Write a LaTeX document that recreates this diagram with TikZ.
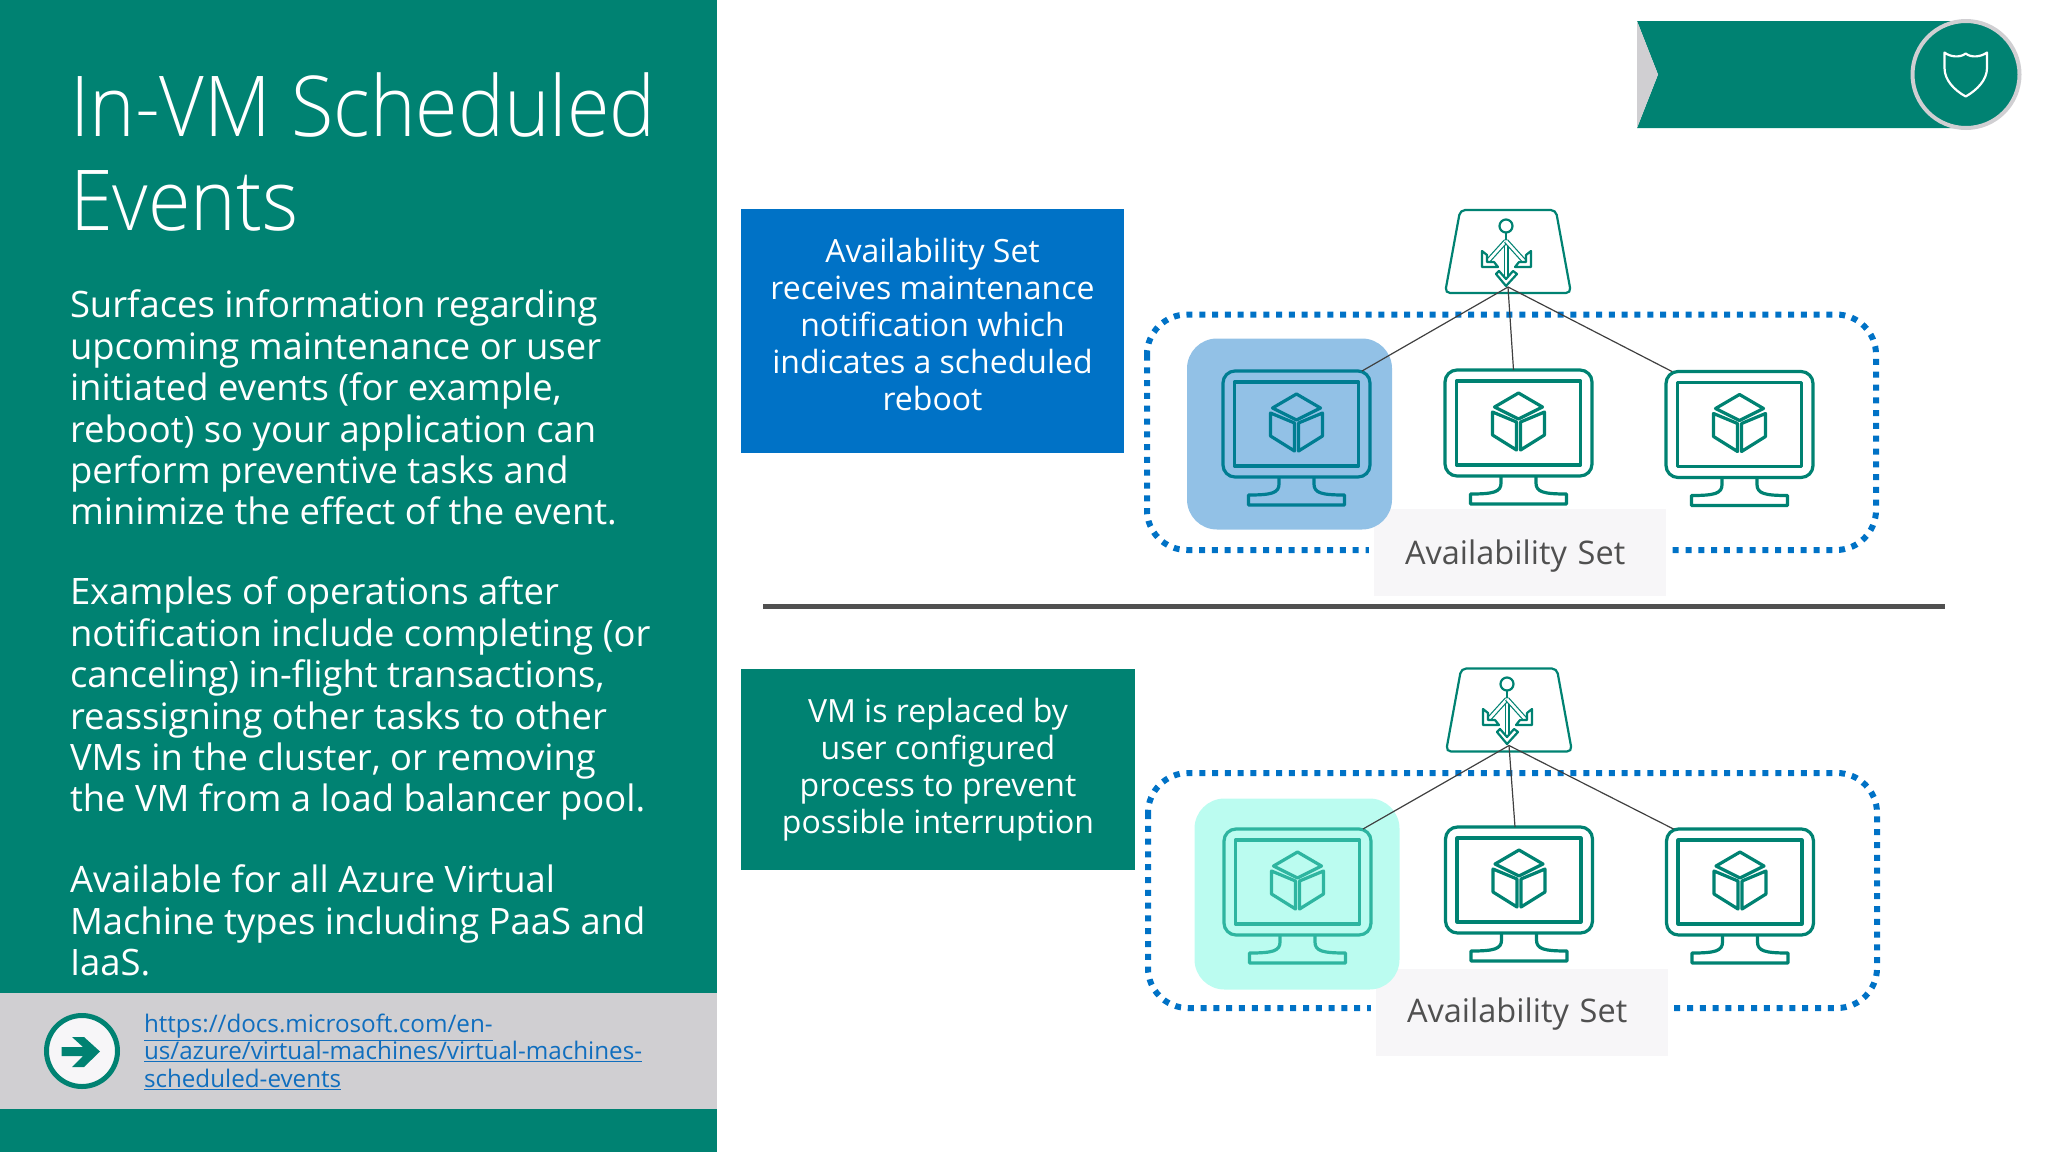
\documentclass[tikz,border=0pt]{standalone}
\usepackage{fontspec}
\setmainfont{Open Sans}
\newfontfamily\lightfont[FakeStretch=0.92]{Open Sans Light}
\usepackage{tikz}
\usetikzlibrary{shapes.geometric}

\definecolor{azteal}{HTML}{008272}
\definecolor{azblue}{HTML}{0072C6}
\definecolor{azgrey}{HTML}{D0CFD2}
\definecolor{azlabel}{HTML}{F7F6F8}
\definecolor{azlink}{HTML}{106EBE}
\definecolor{azink}{HTML}{505050}
\definecolor{hiblue}{HTML}{92C1E6}
\definecolor{hiblueline}{HTML}{007D92}
\definecolor{hiteal}{HTML}{BBFCF0}
\definecolor{hitealline}{HTML}{2EB5A0}

\tikzset{
  vmparts/.pic={
    \draw (-62,-42) rectangle (62,42);
    \draw (-17.5,53) -- (-17.5,60) .. controls (-17.5,69) and (-25,71) .. (-48,71)
      -- (-48,81) -- (48,81) -- (48,71) .. controls (25,71) and (17.5,69) .. (17.5,60) -- (17.5,53);
    \draw (0,-30) -- (24,-16) -- (0,-4) -- (-24,-16) -- cycle;
    \draw (-26,-11) -- (-26,12) -- (-2,27) -- (-2,-1) -- cycle;
    \draw (26,-11) -- (26,12) -- (2,27) -- (2,-1) -- cycle;
  },
  lbparts/.pic={
    \draw[line width=2.2] (0,-25) circle (6.5);
    \draw[line width=2.2] (0,-18.5) -- (0,-10);
    \draw[lbicon] (0,-11) -- (0,31);
    \draw[lbicon] (0,-10) -- (-19,11);
    \draw[lbicon] (0,-10) -- (19,11);
    \draw[arrowcap] (-24,0) -- (-24,16) -- (-8,16) -- (-12,11) -- (-19,11) -- (-19,4) -- cycle;
    \draw[arrowcap] (25,0) -- (25,16) -- (9,16) -- (13,11) -- (20,11) -- (20,4) -- cycle;
    \draw[arrowcap] (-10,23) -- (0,35) -- (11,23) -- (7,20) -- (0,28) -- (-7,20) -- cycle;
  }
}

\begin{document}
\begin{tikzpicture}[
  x=1pt, y=-1pt,
  every node/.style={inner sep=0pt, outer sep=0pt},
  bodytext/.style={anchor=north west, align=left, text=white,
                   font=\fontsize{36.4}{41.4}\selectfont},
  notebox/.style={minimum width=383, align=center, text=white,
                  font=\fontsize{32}{36.9}\selectfont},
  setlabel/.style={inner xsep=31, text width=230, align=left, minimum height=87,
                   fill=azlabel, text=azink, font=\fontsize{32.5}{36}\selectfont},
  setframe/.style={draw=azblue, line width=6, dash pattern=on 6pt off 6.8pt,
                   rounded corners=40},
  lbbox/.style={trapezium, trapezium left angle=81, trapezium right angle=81,
                trapezium stretches=true, inner sep=5pt,
                minimum width=126, minimum height=83, draw=azteal, line width=2.2,
                rounded corners=5},
  lbicon/.style={line width=1.2, double=white, double distance=2.6, line join=miter},
  arrowcap/.style={line width=2.2, line join=round, fill=white},
  vmbody/.style={rectangle, minimum width=147, minimum height=106, line width=3.2,
                 rounded corners=12},
  vmcolor/.style={line width=3.2, line join=round},
  hilite/.style={rectangle, minimum width=205, minimum height=191, rounded corners=30},
  link/.style={draw=black!75, line width=1.2}
]
\useasboundingbox (0,0) rectangle (2048,1152);

% left panel
\fill[azteal] (0,0) rectangle (717,1152);
\fill[azgrey] (0,993) rectangle (717,1109);

\node[anchor=north west, align=left, text=white, font=\fontsize{84}{94}\lightfont] (title) at (70,73)
  {In-VM Scheduled\\Events};
\node[bodytext] (parA) at (70,290)
  {Surfaces information regarding\\upcoming maintenance or user\\initiated events (for example,\\reboot) so your application can\\perform preventive tasks and\\minimize the effect of the event.};
\node[bodytext] (parB) at (70,577)
  {Examples of operations after\\notification include completing (or\\canceling) in-flight transactions,\\reassigning other tasks to other\\VMs in the cluster, or removing\\the VM from a load balancer pool.};
\node[bodytext] (parC) at (70,865)
  {Available for all Azure Virtual\\Machine types including PaaS and\\IaaS.};

\node[circle, minimum size=71, fill=azlabel, draw=azteal, line width=5] (go) at (82,1051) {};
\fill[azteal] (61.5,1047) -- (83,1047) -- (72,1037) -- (84,1037) -- (100,1051.5) -- (84,1067)
  -- (72,1067) -- (83,1056) -- (61.5,1056) -- cycle;
\node[anchor=north west, align=left, text=azlink, font=\fontsize{24.2}{27.4}\selectfont] (url) at (144,1014)
  {\underline{https://docs.microsoft.com/en-}\\\underline{us/azure/virtual-machines/virtual-machines-}\\\underline{scheduled-events}};

% banner
\fill[azteal] (1637,21) -- (1966,21) -- (1966,128) -- (1637,128) -- (1658,74.5) -- cycle;
\fill[azgrey] (1637,21) -- (1658,74.5) -- (1637,128) -- cycle;
\node[circle, minimum size=107, fill=azteal, draw=azgrey, line width=4] (badge) at (1966,74.5) {};
\draw[white, line width=2.2, line join=round] (1944.5,52.5) .. controls (1950,57) and (1960,58) .. (1965.7,53.5)
  .. controls (1971,58) and (1981,57) .. (1987,52.5) -- (1987,68) .. controls (1987,80) and (1977,90) .. (1965.7,96.5)
  .. controls (1954,90) and (1944.5,80) .. (1944.5,68) -- cycle;

% upper set
\node[notebox, fill=azblue, minimum height=244] (noteA) at (932.5,331) {Availability Set\\receives maintenance\\notification which\\indicates a scheduled\\reboot\\[-24pt]};
\draw[setframe] (1147,314.5) rectangle (1876,550);
\fill[white] (1369,540) rectangle (1669,560);
\node[setlabel] (labelA) at (1520,552.5) {\raisebox{-12pt}[0pt][0pt]{Availability Set}};
\node[hilite, fill=hiblue] (hiA) at (1289.5,434) {};
\node[lbbox] (lbA) at (1508,251.5) {};
\pic[draw=azteal] at (1506,251) {lbparts};
\node[vmbody, draw=hiblueline] (vmA) at (1296.5,424) {};
\pic[draw=hiblueline, vmcolor] at (vmA) {vmparts};
\node[vmbody, draw=azteal] (vmB) at (1518.5,423) {};
\pic[draw=azteal, vmcolor] at (vmB) {vmparts};
\node[vmbody, draw=azteal] (vmC) at (1739.5,424.5) {};
\pic[draw=azteal, vmcolor] at (vmC) {vmparts};
\draw[link] ([yshift=6]lbA.south) -- ([xshift=-8]vmA.north east);
\draw[link] ([yshift=6]lbA.south) -- ([xshift=-5]vmB.north);
\draw[link] ([yshift=6]lbA.south) -- ([xshift=6]vmC.north west);

% divider
\coordinate (ruleL) at (763,606);
\coordinate (ruleR) at (1945,606);
\draw[azink, line width=5] (ruleL) -- (ruleR);

% lower set
\node[notebox, fill=azteal, minimum width=394, minimum height=201] (noteB) at (938,769.5) {VM is replaced by\\user configured\\process to prevent\\possible interruption};
\draw[setframe] (1148,773) rectangle (1877,1008);
\fill[white] (1371,998) rectangle (1670,1018);
\node[setlabel] (labelB) at (1522,1012) {\raisebox{-10.5pt}[0pt][0pt]{Availability Set}};
\node[hilite, fill=hiteal] (hiB) at (1297,894) {};
\node[lbbox] (lbB) at (1509,710) {};
\pic[draw=azteal] at (1507,709) {lbparts};
\node[vmbody, draw=hitealline] (vmD) at (1297.5,882) {};
\pic[draw=hitealline, vmcolor] at (vmD) {vmparts};
\node[vmbody, draw=azteal] (vmE) at (1519,880) {};
\pic[draw=azteal, vmcolor] at (vmE) {vmparts};
\node[vmbody, draw=azteal] (vmF) at (1740,882) {};
\pic[draw=azteal, vmcolor] at (vmF) {vmparts};
\draw[link] ([yshift=6]lbB.south) -- ([xshift=-8]vmD.north east);
\draw[link] ([yshift=6]lbB.south) -- ([xshift=-4]vmE.north);
\draw[link] ([yshift=6]lbB.south) -- ([xshift=7]vmF.north west);

\end{tikzpicture}
\end{document}
